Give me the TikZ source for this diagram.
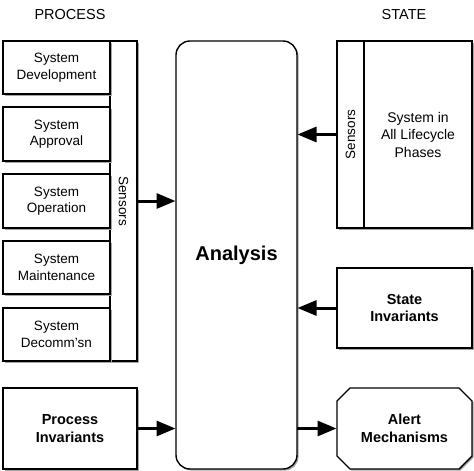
\documentclass[tikz,border=0pt]{standalone}
\usepackage{fontspec}
\setmainfont{Liberation Sans}
\usetikzlibrary{arrows.meta,shadows}
\begin{document}
\begin{tikzpicture}[x=1pt,y=-1pt,
  box/.style={draw,line width=1.4pt,fill=white,minimum width=#1,inner sep=0pt,outer sep=0pt,align=center,
    font=\fontsize{13.5}{16.5}\selectfont,
    drop shadow={shadow xshift=1.6pt,shadow yshift=-1.6pt,fill=black!35,opacity=1}},
  box/.default=107pt,
  bbox/.style={box=#1,font=\fontsize{14.5}{17.5}\selectfont\bfseries},
  hdr/.style={font=\fontsize{14.5}{16}\selectfont},
  arr/.style={line width=3pt,-{Triangle[length=19pt,width=15pt]},shorten >=0.5pt}]
\useasboundingbox (0,0) rectangle (474,471);
\node[hdr] (process) at (70,15) {PROCESS};
\node[hdr] (state) at (404,15) {STATE};
% left column
\node[box=27pt,minimum height=320pt] (lsens) at (123.5,201) {};
\node[rotate=-90,font=\fontsize{13.5}{16}\selectfont] (lsenst) at (lsens) {Sensors};
\node[box,minimum height=53pt] (dev) at (56.5,67.5) {System\\Development};
\node[box,minimum height=54pt] (appr) at (56.5,134) {System\\Approval};
\node[box,minimum height=54pt] (oper) at (56.5,201) {System\\Operation};
\node[box,minimum height=53pt] (maint) at (56.5,267.5) {System\\Maintenance};
\node[box,minimum height=53pt] (decomm) at (56.5,334.5) {System\\Decomm'sn};
\node[bbox=134pt,minimum height=81pt] (pinv) at (70,428.5) {Process\\Invariants};
% analysis
\node[box=121pt,minimum height=428pt,rounded corners=14pt,font=\fontsize{20}{24}\selectfont\bfseries] (analysis) at (236.5,255) {Analysis};
% right column
\node[box=27pt,minimum height=187pt] (rsens) at (350.5,134.5) {};
\node[rotate=90,font=\fontsize{13.5}{16}\selectfont] (rsenst) at (rsens) {Sensors};
\node[box=108pt,minimum height=187pt,font=\fontsize{14}{17.5}\selectfont] (sysall) at (418,134.5) {System in\\All Lifecycle\\Phases};
\node[bbox=135pt,minimum height=80pt] (sinv) at (404.5,308) {State\\Invariants};
\node[minimum width=135pt,minimum height=81pt,inner sep=0pt,outer sep=0pt] (alert) at (404.5,428.5) {};
\draw[line width=1.4pt,fill=white,drop shadow={shadow xshift=1.6pt,shadow yshift=-1.6pt,fill=black!35,opacity=1}]
  ([xshift=13pt]alert.north west) -- ([xshift=-13pt]alert.north east) -- ([yshift=-13pt]alert.north east)
  -- ([yshift=13pt]alert.south east) -- ([xshift=-13pt]alert.south east) -- ([xshift=13pt]alert.south west)
  -- ([yshift=13pt]alert.south west) -- ([yshift=-13pt]alert.north west) -- cycle;
\node[align=center,font=\fontsize{14.5}{17.5}\selectfont\bfseries] (alertt) at (alert) {Alert\\Mechanisms};
% arrows
\draw[arr] (lsens.east) -- (lsens.east -| analysis.west);
\draw[arr] (pinv.east) -- (pinv.east -| analysis.west);
\draw[arr] (rsens.west) -- (rsens.west -| analysis.east);
\draw[arr] (sinv.west) -- (sinv.west -| analysis.east);
\draw[arr] (alert.west -| analysis.east) -- (alert.west);
\end{tikzpicture}
\end{document}
